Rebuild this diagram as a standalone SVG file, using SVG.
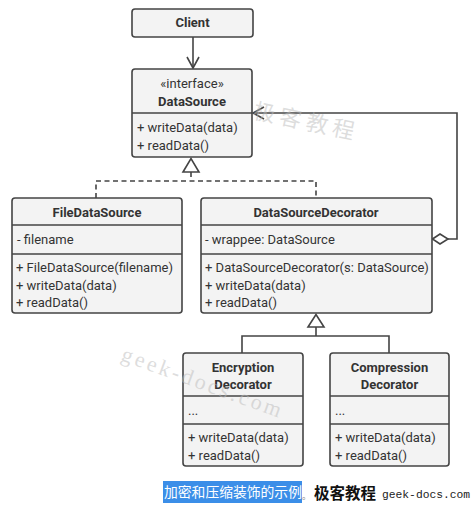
<svg xmlns="http://www.w3.org/2000/svg" width="474" height="509" viewBox="0 0 474 509">
<style>
.box{fill:#f3f3f3;stroke:#444;stroke-width:1.6}
.ln{stroke:#444;stroke-width:1.6;fill:none}
.t{font-family:Roboto,"Liberation Sans",sans-serif;font-size:13px;fill:#333}
.b{font-weight:bold;text-anchor:middle}
.c{text-anchor:middle}
.wm{font-family:"Noto Sans CJK SC",sans-serif;fill:#bbb;fill-opacity:0.5}
</style>
<defs>
<marker id="open" markerWidth="14" markerHeight="14" refX="12" refY="7" orient="auto" markerUnits="userSpaceOnUse">
<path d="M1,1 L12,7 L1,13" fill="none" stroke="#444" stroke-width="1.6"/>
</marker>
</defs>
<rect width="474" height="509" fill="#fff"/>
<g id="connectors">
<line class="ln" x1="193" y1="37" x2="193" y2="68" marker-end="url(#open)"/>
<path class="ln" d="M191,172 V181 M96,198 V181 H316 V198" stroke-dasharray="5,3.5"/>
<path class="ln" d="M183,172 L191,158.5 L199,172 Z"/>
<path class="ln" d="M448,239 H457 V113 H253" marker-end="url(#open)"/>
<path class="ln" d="M432.5,239 L440,234 L448,239 L440,244 Z" fill="#fff"/>
<path class="ln" d="M316,327 V336 M242,353 V336 H389 V353"/>
<path class="ln" d="M308,327 L316,314.5 L324,327 Z"/>
</g>
<g id="Client">
<rect class="box" x="132" y="9" width="121" height="28" rx="3"/>
<text class="t b" x="192.5" y="27">Client</text>
</g>
<g id="DataSource">
<rect class="box" x="132" y="69" width="120" height="88" rx="3"/>
<line class="ln" x1="132" y1="113" x2="252" y2="113"/>
<text class="t c" x="192" y="88">«interface»</text>
<text class="t b" x="192" y="106">DataSource</text>
<text class="t" x="137" y="132">+ writeData(data)</text>
<text class="t" x="137" y="150">+ readData()</text>
</g>
<g id="FileDataSource">
<rect class="box" x="12" y="198" width="170" height="115" rx="3"/>
<line class="ln" x1="12" y1="225" x2="182" y2="225"/>
<line class="ln" x1="12" y1="254" x2="182" y2="254"/>
<text class="t b" x="97" y="217">FileDataSource</text>
<text class="t" x="17" y="244">- filename</text>
<text class="t" x="16" y="272">+ FileDataSource(filename)</text>
<text class="t" x="16" y="290">+ writeData(data)</text>
<text class="t" x="16" y="307">+ readData()</text>
</g>
<g id="DataSourceDecorator">
<rect class="box" x="201" y="198" width="231" height="115" rx="3"/>
<line class="ln" x1="201" y1="225" x2="432" y2="225"/>
<line class="ln" x1="201" y1="254" x2="432" y2="254"/>
<text class="t b" x="316" y="217">DataSourceDecorator</text>
<text class="t" x="205" y="244">- wrappee: DataSource</text>
<text class="t" x="205" y="272">+ DataSourceDecorator(s: DataSource)</text>
<text class="t" x="205" y="290">+ writeData(data)</text>
<text class="t" x="205" y="307">+ readData()</text>
</g>
<g id="EncryptionDecorator">
<rect class="box" x="183" y="353" width="120" height="113" rx="3"/>
<line class="ln" x1="183" y1="396" x2="303" y2="396"/>
<line class="ln" x1="183" y1="424" x2="303" y2="424"/>
<text class="t b" x="243" y="372">Encryption</text>
<text class="t b" x="243" y="389">Decorator</text>
<text class="t" x="188" y="415">...</text>
<text class="t" x="188" y="442">+ writeData(data)</text>
<text class="t" x="188" y="460">+ readData()</text>
</g>
<g id="CompressionDecorator">
<rect class="box" x="330" y="353" width="119" height="113" rx="3"/>
<line class="ln" x1="330" y1="396" x2="449" y2="396"/>
<line class="ln" x1="330" y1="424" x2="449" y2="424"/>
<text class="t b" x="389.5" y="372">Compression</text>
<text class="t b" x="389.5" y="389">Decorator</text>
<text class="t" x="335" y="415">...</text>
<text class="t" x="335" y="442">+ writeData(data)</text>
<text class="t" x="335" y="460">+ readData()</text>
</g>
<g id="watermarks" class="wm">
<text x="252" y="118" font-size="22" transform="rotate(12 252 118)">极 客 教 程</text>
<text x="120" y="360" font-size="22" letter-spacing="3" font-family="'Liberation Serif',serif" transform="rotate(20 120 360)">geek-docs.com</text>
</g>
<g id="caption">
<rect x="163" y="481" width="139" height="22" fill="#3b8ee8"/>
<text x="164" y="497" font-family="'Noto Sans CJK SC',sans-serif" font-size="13.8" fill="#fff">加密和压缩装饰的示例</text>
<text x="302" y="499" font-family="'Noto Sans CJK SC',sans-serif" font-size="9" fill="#888">。</text>
<text x="314" y="499" font-family="'Noto Sans CJK SC',sans-serif" font-size="15.5" font-weight="bold" fill="#111">极客教程</text>
<text x="382" y="498" font-family="'Liberation Mono',monospace" font-size="11.3" fill="#222">geek-docs.com</text>
</g>
</svg>
